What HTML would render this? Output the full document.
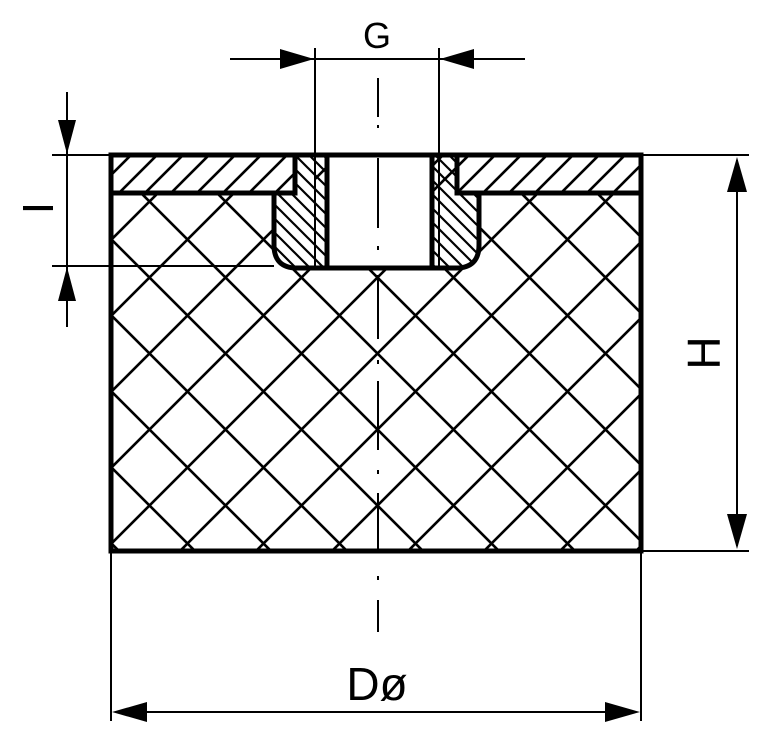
<!DOCTYPE html>
<html><head><meta charset="utf-8"><style>html,body{margin:0;padding:0;background:#fff}svg{display:block}</style></head>
<body>
<svg width="768" height="751" viewBox="0 0 768 751" xmlns="http://www.w3.org/2000/svg">
<defs>
<pattern id="xh" patternUnits="userSpaceOnUse" x="35.5" y="11.5" width="76" height="76">
<path d="M-2,-2 L78,78 M78,-2 L-2,78" stroke="#000" stroke-width="2.6"/>
</pattern>
<pattern id="ph" patternUnits="userSpaceOnUse" x="0" y="0" width="26" height="26">
<path d="M-2,28 L28,-2 M-15,15 L15,-15 M11,41 L41,11" stroke="#000" stroke-width="2.6"/>
</pattern>
<pattern id="ih" patternUnits="userSpaceOnUse" x="0" y="0" width="14" height="14">
<path d="M-2,-2 L16,16 M-9,5 L5,19 M5,-9 L19,5" stroke="#000" stroke-width="2.2"/>
</pattern>
</defs>
<!-- rubber body -->
<rect x="111" y="155" width="530" height="396" fill="url(#xh)"/>
<!-- plate -->
<rect x="111" y="155" width="530" height="38" fill="#fff"/>
<rect x="111" y="155" width="530" height="38" fill="url(#ph)"/>
<!-- insert boss -->
<path d="M274,193 L274,245 Q274,268 297,268 L456,268 Q479,268 479,245 L479,193 Z" fill="#fff"/>
<path d="M274,193 L274,245 Q274,268 297,268 L456,268 Q479,268 479,245 L479,193 Z" fill="url(#ih)"/>
<rect x="295" y="157" width="160" height="36" fill="url(#ih)"/>
<rect x="296" y="157" width="20" height="36" fill="#fff"/>
<rect x="296" y="157" width="20" height="36" fill="url(#ih)"/>
<!-- bore -->
<rect x="327" y="157" width="105" height="111" fill="#fff"/>
<!-- outlines -->
<g stroke="#000" fill="none" stroke-width="5">
<rect x="111" y="155" width="530" height="396"/>
<path d="M111,193 L295,193 L295,157"/>
<path d="M641,193 L457,193 L457,157"/>
<path d="M274,193 L274,245 Q274,268 297,268 L456,268 Q479,268 479,245 L479,193"/>
<path d="M327,157 L327,268 M432,157 L432,268"/>
</g>
<!-- thin lines -->
<g stroke="#000" fill="none" stroke-width="2">
<path d="M315,48 L315,268 M439,48 L439,268"/>
<path d="M230,59 L525,59"/>
<path d="M52,155 L111,155 M52,266 L274,266"/>
<path d="M67,92 L67,327"/>
<path d="M641,155 L749,155 M641,551 L749,551"/>
<path d="M737,160 L737,546"/>
<path d="M111,551 L111,721 M641,551 L641,721"/>
<path d="M116,712 L636,712"/>
</g>
<!-- centerline -->
<g stroke="#000" stroke-width="2">
<path d="M378,78 L378,117 M378,125 L378,128 M378,158 L378,228 M378,246 L378,250 M378,275 L378,339 M378,360 L378,364 M378,381 L378,450 M378,470 L378,474 M378,493 L378,553 M378,576 L378,580 M378,600 L378,632"/>
</g>
<!-- arrowheads -->
<g fill="#000">
<polygon points="314,59 280,49 280,69"/>
<polygon points="440,59 474,49 474,69"/>
<polygon points="67,154 58,120 76,120"/>
<polygon points="67,267 58,301 76,301"/>
<polygon points="737,157 727,192 747,192"/>
<polygon points="737,549 727,514 747,514"/>
<polygon points="112,712 147,702 147,722"/>
<polygon points="640,712 605,702 605,722"/>
</g>
<!-- labels -->
<g font-family="'Liberation Sans', sans-serif" fill="#000">
<text x="377" y="48" font-size="36" text-anchor="middle">G</text>
<text x="377" y="700" font-size="46" text-anchor="middle">Dø</text>
<text transform="translate(720,353) rotate(-90)" font-size="46" text-anchor="middle">H</text>
<text transform="translate(53,208) rotate(-90)" font-size="44" text-anchor="middle">I</text>
</g>
</svg>
</body></html>
